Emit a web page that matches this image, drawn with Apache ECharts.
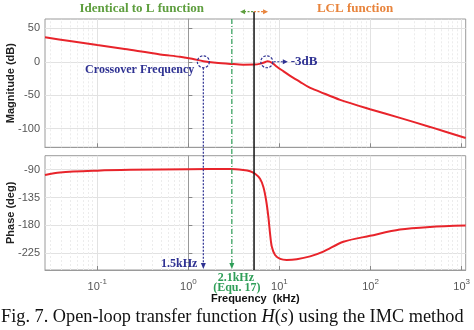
<!DOCTYPE html>
<html><head><meta charset="utf-8">
<script src="https://cdn.jsdelivr.net/npm/echarts@6/dist/echarts.min.js"></script>
<style>html,body{margin:0;padding:0;background:#fff}#c{width:474px;height:330px}</style>
</head><body><div id="c"></div>
<script>
// ---- data ----
const magFreq = [0.0267, 0.05, 0.1, 0.2, 0.49, 0.81, 1.1, 1.46, 2.0, 2.9, 4.0, 5.3, 6.2, 7.0, 7.4, 8.3, 9.3, 11, 13.1, 16.8, 21, 27.9, 46.3, 98.7, 210, 450, 1107];
const magDb   = [36.6, 31.1, 25, 19, 11, 7.5, 4.5, 0.8, -1.5, -3.2, -4.3, -4.2, -2.8, -0.4, 0.8, -1.5, -7, -14, -21, -30, -38, -45, -57, -71, -84, -97.5, -114];
const phFreq  = [0.0267, 0.039, 0.1, 0.23, 1, 2.87, 4.0, 4.76, 5.4, 6.12, 6.66, 7.13, 7.55, 7.88, 8.23, 8.95, 10.2, 12, 15.5, 21.7, 30.3, 50.3, 98.7, 210, 450, 1107];
const phDeg   = [-98.5, -94.5, -91.6, -90.3, -89.3, -89, -90.5, -92.5, -96.6, -104.6, -118, -139, -166, -193, -214, -227.7, -234, -235.7, -234.6, -230, -222.4, -206.4, -196.8, -186.6, -182.4, -180.2];
const xTicks   = [0.1, 1, 10, 100, 1000];
const magTicks = [50, 0, -50, -100];
const phTicks  = [-90, -135, -180, -225];
const crossoverFreq = 1.46;   // "1.5kHz"
const equFreq = 3.0;          // "2.1kHz (Equ. 17)" marker line
const boundaryFreq = 5.26;    // black boundary line
const peakFreq = 7.26;        // -3dB marker
// ----------------------------------------

// frequency axis is logarithmic: values are placed by log10(kHz)
const L = Math.log10;
const X_MIN = 0.0267, X_MAX = 1107;
const MAG_MIN = -128, MAG_MAX = 64, PH_MIN = -252, PH_MAX = -67.5;

const minorVals = [];
for (let d = -2; d <= 3; d++) for (let k = 2; k <= 9; k++) {
  const v = k * Math.pow(10, d);
  if (v > X_MIN && v < X_MAX) minorVals.push(L(v));
}
function xFmt(v){
  const e = Math.round(v);
  return '{b|10}{s|' + e + '}';
}
const gridCol = '#e2e2e2';
function xAxis(g, showLabel, name){
  return {
    type:'value', gridIndex:g, min:L(X_MIN), max:L(X_MAX),
    name: name || '', nameLocation:'middle', nameGap:23, nameMoveOverlap:false,
    nameTextStyle:{fontFamily:'Liberation Sans', fontWeight:'bold', fontSize:11, color:'#111'},
    axisLine:{show:true, onZero:false, lineStyle:{color:'#9a9a9a', width:1}},
    axisTick:{show:true, inside:true, length:4, customValues:xTicks.map(L), lineStyle:{color:'#888'}},
    axisLabel:{show:showLabel, customValues:xTicks.map(L), formatter:xFmt, margin:8,
      rich:{b:{fontFamily:'Liberation Sans', fontSize:11, color:'#555', lineHeight:14, verticalAlign:'bottom'},
            s:{fontFamily:'Liberation Sans', fontSize:8, color:'#555', lineHeight:8, verticalAlign:'top'}}},
    splitLine:{show:true, lineStyle:{color:gridCol, width:1}}
  };
}
function yAxis(g, min, max, ticks, name){
  return {
    type:'value', gridIndex:g, min:min, max:max, name:name, nameLocation:'middle', nameGap:29, nameMoveOverlap:false,
    nameTextStyle:{fontFamily:'Liberation Sans', fontWeight:'bold', fontSize:11, color:'#222'},
    axisLine:{show:true, lineStyle:{color:'#9a9a9a'}},
    axisTick:{show:true, inside:true, length:4, customValues:ticks, lineStyle:{color:'#888'}},
    axisLabel:{customValues:ticks, margin:5, fontFamily:'Liberation Sans', fontSize:11, color:'#555'},
    splitLine:{show:true, lineStyle:{color:gridCol, width:1}}
  };
}
function minorLines(){
  return {silent:true, symbol:'none', z:1, label:{show:false}, animation:false,
    lineStyle:{color:'#ececec', type:[2,2], width:1},
    data: minorVals.map(v => ({xAxis:v}))};
}

const chart = echarts.init(document.getElementById('c'), null, {renderer:'canvas'});
chart.setOption({
  animation:false,
  backgroundColor:'#fff',
  grid:[
    {left:45, right:8.3, top:19, height:128.3, show:true, borderColor:'#9a9a9a', borderWidth:1, backgroundColor:'#fff', containLabel:false, outerBoundsMode:'none'},
    {left:45, right:8.3, top:155.7, height:114.3, show:true, borderColor:'#9a9a9a', borderWidth:1, backgroundColor:'#fff', containLabel:false, outerBoundsMode:'none'}
  ],
  xAxis:[ xAxis(0,false), xAxis(1,true,'Frequency  (kHz)') ],
  yAxis:[ yAxis(0, MAG_MIN, MAG_MAX, magTicks, 'Magnitude (dB)'), yAxis(1, PH_MIN, PH_MAX, phTicks, 'Phase (deg)') ],
  series:[
    {type:'line', xAxisIndex:0, yAxisIndex:0, z:3, data: magFreq.map((f,i)=>[L(f), magDb[i]]),
     showSymbol:false, smooth:0.3, lineStyle:{color:'#e8242b', width:2}, markLine:minorLines()},
    {type:'line', xAxisIndex:1, yAxisIndex:1, z:3, data: phFreq.map((f,i)=>[L(f), phDeg[i]]),
     showSymbol:false, smooth:0.3, lineStyle:{color:'#e8242b', width:2}, markLine:minorLines()}
  ]
});

// ---- annotations placed through the chart's own scales ----
function P(g, f, y){ return chart.convertToPixel({gridIndex:g}, [L(f), y]); }
const navy = '#2e3192', green = '#2f9e58', olive = '#5e9e3e', orange = '#e8843c';
const topY = P(0, crossoverFreq, MAG_MAX)[1];
const botY = P(1, crossoverFreq, PH_MIN)[1];
const xc = P(0, crossoverFreq, 0)[0];
const xe = P(0, equFreq, 0)[0];
const xb = P(0, boundaryFreq, 0)[0];
const pc = P(0, crossoverFreq, 0);
const pp = P(0, peakFreq, 0);
const r = 6;
function arrowDown(x, y, col){ return {type:'polygon', z:20, shape:{points:[[x-2.5,y-6],[x+2.5,y-6],[x,y]]}, style:{fill:col}}; }
function arrowSide(x, y, dir, col){ return {type:'polygon', z:20, shape:{points:[[x-dir*5,y-2.5],[x-dir*5,y+2.5],[x,y]]}, style:{fill:col}}; }
const g = [
  {type:'line', z:15, shape:{x1:xb, y1:topY-7.3, x2:xb, y2:botY}, style:{stroke:'#111', lineWidth:1.5}},
  {type:'line', z:15, shape:{x1:xe, y1:topY, x2:xe, y2:botY-4}, style:{stroke:green, lineWidth:1.2, lineDash:[5,2,1,2]}},
  arrowDown(xe, botY-1, green),
  {type:'line', z:15, shape:{x1:xc, y1:pc[1]+r, x2:xc, y2:botY-4}, style:{stroke:navy, lineWidth:1.2, lineDash:[2,1.5]}},
  arrowDown(xc, botY-1, navy),
  {type:'circle', z:16, shape:{cx:pc[0], cy:pc[1], r:r}, style:{fill:'none', stroke:navy, lineWidth:1.2, lineDash:[2.5,1.5]}},
  {type:'circle', z:16, shape:{cx:pp[0], cy:pp[1], r:r}, style:{fill:'none', stroke:navy, lineWidth:1.2, lineDash:[2.5,1.5]}},
  {type:'line', z:16, shape:{x1:pp[0]+r+1, y1:pp[1], x2:pp[0]+r+11, y2:pp[1]}, style:{stroke:navy, lineWidth:1.2, lineDash:[2,1.5]}},
  arrowSide(pp[0]+r+15, pp[1], 1, navy),
  {type:'text', z:16, x:pp[0]+r+18, y:pp[1], style:{text:'-3dB', font:'bold 13px "Liberation Serif"', fill:navy, align:'left', verticalAlign:'middle'}},
  {type:'line', z:16, shape:{x1:xb-10, y1:topY-7.3, x2:xb, y2:topY-7.3}, style:{stroke:olive, lineWidth:1.2, lineDash:[2,1.5]}},
  arrowSide(xb-14, topY-7.3, -1, olive),
  {type:'line', z:16, shape:{x1:xb, y1:topY-7.3, x2:xb+10, y2:topY-7.3}, style:{stroke:orange, lineWidth:1.2, lineDash:[2,1.5]}},
  arrowSide(xb+14, topY-7.3, 1, orange),
  {type:'text', z:16, x:141.7, y:9, style:{text:'Identical to L function', font:'bold 13px "Liberation Serif"', fill:olive, align:'center', verticalAlign:'middle'}},
  {type:'text', z:16, x:355, y:9, style:{text:'LCL function', font:'bold 13px "Liberation Serif"', fill:orange, align:'center', verticalAlign:'middle'}},
  {type:'text', z:16, x:pc[0]-r-3, y:pc[1]+8, style:{text:'Crossover Frequency', font:'bold 12px "Liberation Serif"', fill:navy, align:'right', verticalAlign:'middle'}},
  {type:'text', z:16, x:xc-6, y:botY-6, style:{text:'1.5kHz', font:'bold 12px "Liberation Serif"', fill:navy, align:'right', verticalAlign:'middle'}},
  {type:'text', z:16, x:xe+4, y:botY+8, style:{text:'2.1kHz', font:'bold 12px "Liberation Serif"', fill:green, align:'center', verticalAlign:'middle'}},
  {type:'text', z:16, x:xe+5, y:botY+18, style:{text:'(Equ. 17)', font:'bold 12px "Liberation Serif"', fill:green, align:'center', verticalAlign:'middle'}},
  {type:'text', z:16, x:1, y:326, style:{text:'{a|Fig. 7. Open-loop transfer function }{i|H}{a|(}{i|s}{a|) using the IMC method}',
    align:'left', verticalAlign:'bottom',
    rich:{a:{font:'18.3px "Liberation Serif"', fill:'#111'}, i:{font:'italic 18.3px "Liberation Serif"', fill:'#111'}}}}
];
chart.setOption({graphic: g});
</script></body></html>
